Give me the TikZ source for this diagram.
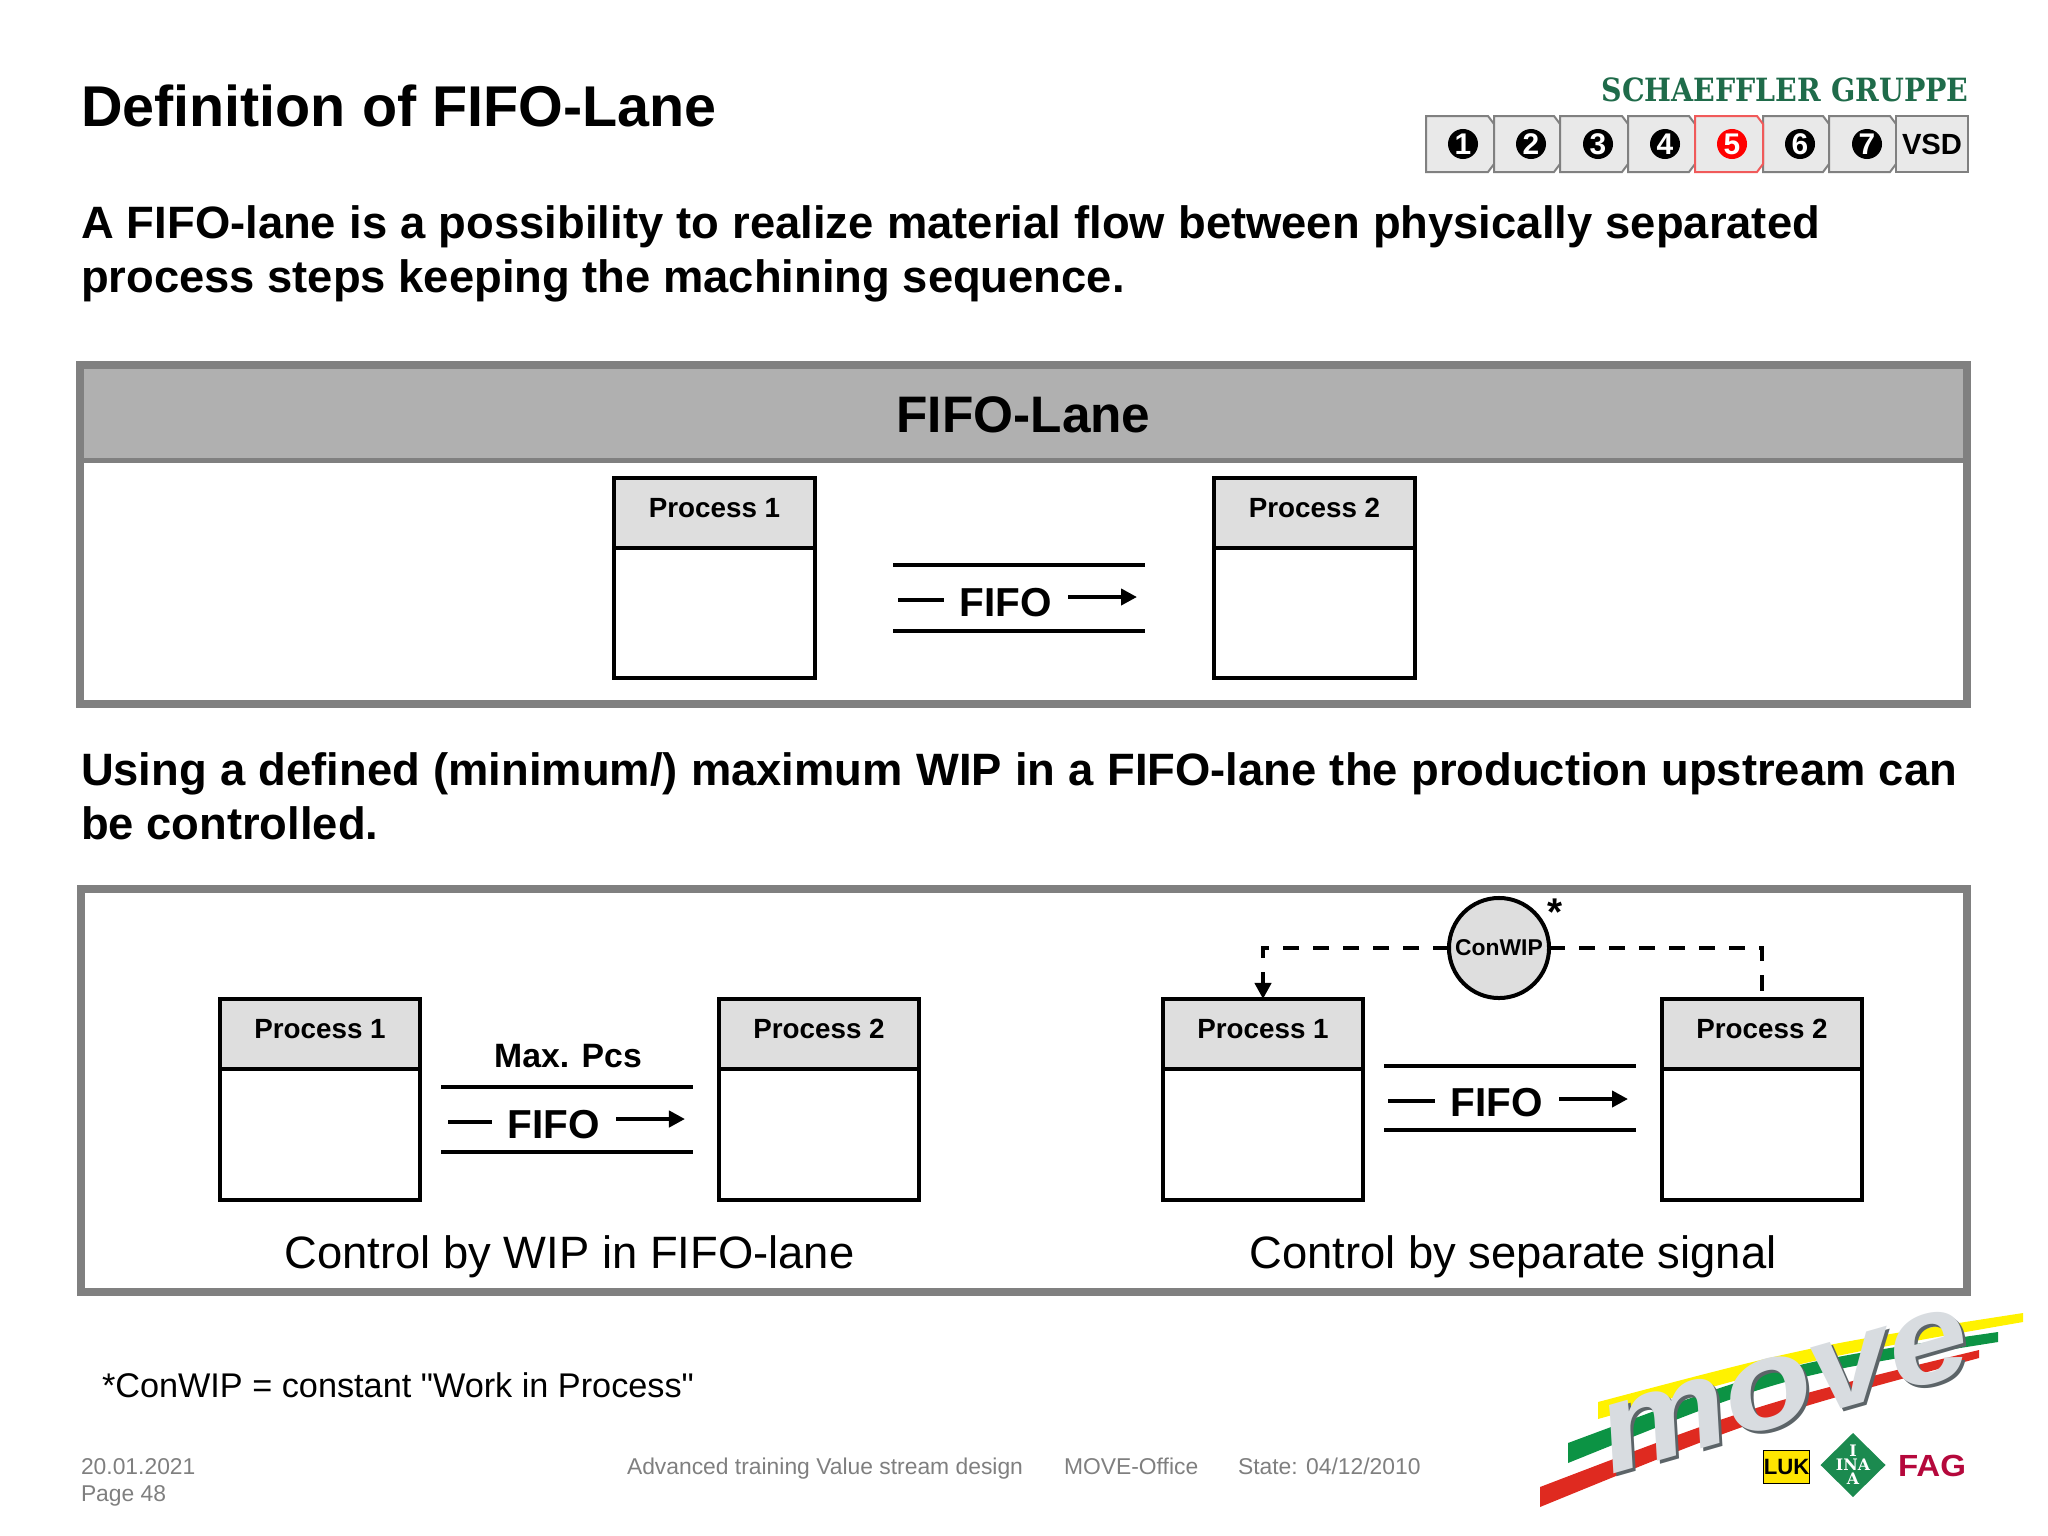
\documentclass[tikz,border=0pt]{standalone}
\usepackage{fontspec}
\usepackage{graphicx}
\setmainfont{Liberation Sans}
\newfontfamily\plainquotes{Liberation Sans}
\newfontfamily\slabfont{DejaVu Serif}
\usetikzlibrary{arrows.meta,shapes.geometric}
\definecolor{panelgray}{HTML}{808080}
\definecolor{headgray}{HTML}{B0B0B0}
\definecolor{procgray}{HTML}{DEDEDE}
\definecolor{tabgray}{HTML}{E9E9E9}
\definecolor{tabred}{HTML}{F05A5A}
\definecolor{footgray}{HTML}{7F7F7F}
\definecolor{brandgreen}{HTML}{1F6B4A}
\definecolor{movelight}{HTML}{D8DCE0}
\definecolor{moveshadow}{HTML}{5C6468}
\definecolor{stripeyellow}{HTML}{FFF200}
\definecolor{stripegreen}{HTML}{0C9344}
\definecolor{stripered}{HTML}{DF2A20}
\definecolor{lukyellow}{HTML}{FFE500}
\definecolor{inagreen}{HTML}{1B8A4F}
\definecolor{fagred}{HTML}{B5083C}
\tikzset{
    every node/.style={outer sep=0pt, inner sep=0pt},
    panel/.style={draw=panelgray, line width=0.08cm, minimum width=18.85cm},
    prochead/.style={draw, line width=0.04cm, fill=procgray, minimum width=2.0cm, minimum height=0.7cm,
        font=\fontsize{7.9}{10}\selectfont\bfseries, text height=0.2cm, text depth=0.12cm},
    procbody/.style={draw, line width=0.04cm, fill=white, minimum width=2.0cm, minimum height=1.31cm},
    fifotext/.style={font=\fontsize{11.5}{14}\selectfont\bfseries, inner xsep=0.16cm},
    fifoline/.style={line width=0.04cm},
    fifoarrow/.style={line width=0.04cm, -{Triangle[length=0.16cm, width=0.16cm]}},
    signal/.style={line width=0.045cm, dash pattern=on 0.16cm off 0.14cm},
    navtab/.style={draw=panelgray, line width=0.02cm, fill=tabgray},
    navdot/.style={circle, fill=black, minimum size=0.3cm, text=white, font=\fontsize{8.5}{9}\selectfont\bfseries},
    bodytext/.style={anchor=base west, font=\fontsize{12.9}{15}\selectfont\bfseries},
    caption/.style={font=\fontsize{12.9}{15}\selectfont},
    foot/.style={anchor=base west, text=footgray, font=\fontsize{6.5}{8}\selectfont}
}
\begin{document}
\begin{tikzpicture}[x=0.01cm, y=-0.01cm]
    \useasboundingbox (0,0) rectangle (2048,1536);

    \node[anchor=base west, font=\fontsize{16.35}{20}\selectfont\bfseries] (title) at (81,126) {Definition of FIFO-Lane};
    \node[bodytext] (text1) at (81,238) {\makebox[17.38cm][s]{A FIFO-lane is a possibility to realize material flow between physically separated}};
    \node[bodytext] (text2) at (81,292) {process steps keeping the machining sequence.};
    \node[bodytext] (text3) at (81,785) {\makebox[18.75cm][s]{Using a defined (minimum/) maximum WIP in a FIFO-lane the production upstream can}};
    \node[bodytext] (text4) at (81,839) {be controlled.};

    \node[text=brandgreen, font=\slabfont\bfseries] (brand) at (1785,90) {\scalebox{0.89}[1]{\fontsize{9.1}{11}\selectfont SCHAEFFLER GRUPPE}};

    \draw[navtab] (1426,116) -- (1488,116) -- (1494,124) -- (1494,164) -- (1488,172) -- (1426,172) -- cycle;
    \draw[navtab] (1494,116) -- (1554,116) -- (1560,124) -- (1560,164) -- (1554,172) -- (1494,172) -- cycle;
    \draw[navtab] (1560,116) -- (1622,116) -- (1628,124) -- (1628,164) -- (1622,172) -- (1560,172) -- cycle;
    \draw[navtab] (1628,116) -- (1689,116) -- (1695,124) -- (1695,164) -- (1689,172) -- (1628,172) -- cycle;
    \draw[navtab] (1763,116) -- (1823,116) -- (1829,124) -- (1829,164) -- (1823,172) -- (1763,172) -- cycle;
    \draw[navtab] (1829,116) -- (1890,116) -- (1896,124) -- (1896,164) -- (1890,172) -- (1829,172) -- cycle;
    \draw[navtab] (1896,116) -- (1968,116) -- (1968,172) -- (1896,172) -- cycle;
    \draw[navtab, draw=tabred] (1695,116) -- (1757,116) -- (1763,124) -- (1763,164) -- (1757,172) -- (1695,172) -- cycle;

    \node[navdot] (nav1) at (1463,144) {1};
    \node[navdot] (nav2) at (1531,144) {2};
    \node[navdot] (nav3) at (1598,144) {3};
    \node[navdot] (nav4) at (1665,144) {4};
    \node[navdot, fill=red] (nav5) at (1732,144) {5};
    \node[navdot] (nav6) at (1800,144) {6};
    \node[navdot] (nav7) at (1867,144) {7};
    \node[font=\fontsize{8.3}{9}\selectfont\bfseries] (navvsd) at (1932,144) {VSD};

    \node[panel, minimum height=3.39cm] (lanepanel) at (1023.5,534.5) {};
    \node[fill=headgray, minimum width=18.77cm, minimum height=0.915cm, font=\fontsize{14.6}{17}\selectfont\bfseries] (lanehead) at (1023.5,414.75) {FIFO-Lane};
    \draw[panelgray, line width=0.05cm] (lanehead.south west) -- (lanehead.south east);

    \node[prochead] (a1head) at (714.5,513) {Process 1};
    \node[procbody, minimum height=1.3cm] (a1body) at (714.5,613) {};
    \node[prochead] (a2head) at (1314.5,513) {Process 2};
    \node[procbody, minimum height=1.3cm] (a2body) at (1314.5,613) {};

    \coordinate (a1) at (893,565);
    \coordinate (a2) at (1145,565);
    \coordinate (a3) at (893,631);
    \coordinate (a4) at (1145,631);
    \coordinate (a5) at (898,600);
    \coordinate (a6) at (1137,597);
    \node[fifotext] (fifoa) at (1006,603) {FIFO};
    \draw[fifoline] (a1) -- (a2);
    \draw[fifoline] (a3) -- (a4);
    \draw[fifoline] (a5) -- (a5 -| fifoa.west);
    \draw[fifoarrow] (a6 -| fifoa.east) -- (a6);

    \node[panel, minimum height=4.035cm] (ctrlpanel) at (1024,1090.5) {};

    \node[prochead] (b1head) at (320,1034) {Process 1};
    \node[procbody] (b1body) at (320,1134.5) {};
    \node[prochead] (b2head) at (819,1034) {Process 2};
    \node[procbody] (b2body) at (819,1134.5) {};

    \coordinate (b1) at (441,1087);
    \coordinate (b2) at (693,1087);
    \coordinate (b3) at (441,1152);
    \coordinate (b4) at (693,1152);
    \coordinate (b5) at (448,1122);
    \coordinate (b6) at (685,1119);
    \node[font=\fontsize{9.6}{13}\selectfont\bfseries] (maxpcs) at (568,1056) {Max. Pcs};
    \node[fifotext] (fifob) at (554,1125) {FIFO};
    \draw[fifoline] (b1) -- (b2);
    \draw[fifoline] (b3) -- (b4);
    \draw[fifoline] (b5) -- (b5 -| fifob.west);
    \draw[fifoarrow] (b6 -| fifob.east) -- (b6);
    \node[caption] (capb) at (569.5,1257) {Control by WIP in FIFO-lane};

    \node[prochead] (c1head) at (1263,1034) {Process 1};
    \node[procbody] (c1body) at (1263,1134.5) {};
    \node[prochead] (c2head) at (1762,1034) {Process 2};
    \node[procbody] (c2body) at (1762,1134.5) {};

    \coordinate (c1) at (1384,1066);
    \coordinate (c2) at (1636,1066);
    \coordinate (c3) at (1384,1130);
    \coordinate (c4) at (1636,1130);
    \coordinate (c5) at (1388,1101);
    \coordinate (c6) at (1628,1099);
    \node[fifotext] (fifoc) at (1497,1103) {FIFO};
    \draw[fifoline] (c1) -- (c2);
    \draw[fifoline] (c3) -- (c4);
    \draw[fifoline] (c5) -- (c5 -| fifoc.west);
    \draw[fifoarrow] (c6 -| fifoc.east) -- (c6);
    \node[caption] (capc) at (1513,1257) {Control by separate signal};

    \node[circle, draw, line width=0.04cm, fill=procgray, minimum size=1.0cm, font=\fontsize{6.5}{8}\selectfont\bfseries] (conwip) at (1499,948) {ConWIP};
    \node[font=\fontsize{11}{13}\selectfont\bfseries] (star) at (1555,912) {*};
    \draw[signal, -{Triangle[length=0.16cm, width=0.16cm]}] (conwip.west) -| (c1head.north);
    \draw[signal] (conwip.east) -| (c2head.north);

    \node[anchor=base west, font=\plainquotes\fontsize{9.74}{11}\selectfont] (note) at (102,1397) {*ConWIP = constant "Work in Process"};

    \node[foot] (date) at (81,1474) {20.01.2021};
    \node[foot] (page) at (81,1501) {Page 48};
    \node[foot] (course) at (627,1474) {Advanced training Value stream design};
    \node[foot] (office) at (1064,1474) {MOVE-Office};
    \node[foot] (state) at (1238,1474) {State: 04/12/2010};

    \fill[stripeyellow] (1598,1402) .. controls (1810,1346) .. (2023,1313) -- (2023,1322) .. controls (1810,1359) .. (1598,1419) -- cycle;
    \fill[stripegreen] (1568,1443) .. controls (1783,1363) .. (1998,1332) -- (1998,1342) .. controls (1783,1376) .. (1568,1463) -- cycle;
    \fill[stripered] (1540,1487) .. controls (1760,1403) .. (1979,1350) -- (1979,1358) .. controls (1760,1417) .. (1540,1507) -- cycle;

    \node[rotate=16, text=moveshadow, font=\fontsize{36}{40}\selectfont\bfseries\itshape] (moveback) at (1788,1393) {\scalebox{1.15}[1]{move}};
    \node[rotate=16, text=movelight, font=\fontsize{36}{40}\selectfont\bfseries\itshape] (movefront) at (1785,1390) {\scalebox{1.15}[1]{move}};

    \node[draw, line width=0.01cm, fill=lukyellow, minimum width=0.44cm, minimum height=0.33cm, font=\fontsize{6.3}{8}\selectfont\bfseries] (luk) at (1786.5,1466.5) {LUK};
    \node[diamond, fill=inagreen, minimum width=0.65cm, minimum height=0.64cm] (ina) at (1853,1465) {};
    \node[text=white, font=\slabfont\bfseries\fontsize{4.5}{5}\selectfont, align=center] (inatext) at (ina) {I\\[-1pt]INA\\[-1pt]A};
    \node[text=fagred, font=\fontsize{8.7}{10}\selectfont\bfseries] (fag) at (1932,1466) {\scalebox{1.08}[1]{FAG}};
\end{tikzpicture}
\end{document}
